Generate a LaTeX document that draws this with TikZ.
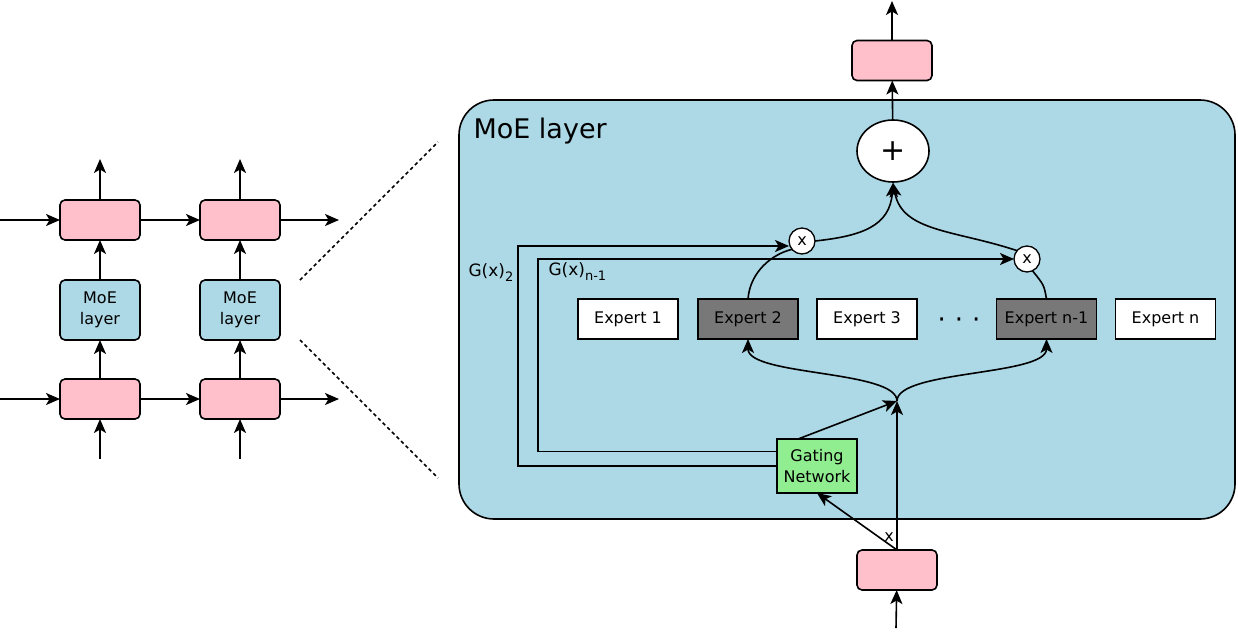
\documentclass[tikz,border=0pt]{standalone}
\usepackage{fontspec}
\setmainfont{DejaVu Sans}
\usetikzlibrary{positioning}
\usetikzlibrary{arrows.meta}
\usetikzlibrary{shapes.geometric}
\definecolor{mpink}{RGB}{255,192,203}
\definecolor{mblue}{RGB}{173,216,230}
\definecolor{mgreen}{RGB}{144,238,144}
\definecolor{mgray}{RGB}{120,120,120}
\newcommand{\gsub}[1]{\raisebox{-5pt}{\fontsize{13}{13}\selectfont #1}}

\begin{document}
\begin{tikzpicture}[x=1pt, y=-1pt, font=\fontsize{16}{21}\selectfont,
    cell/.style={draw, line width=1.6pt, rounded corners=5pt, fill=mpink, minimum width=80pt, minimum height=40pt, inner sep=0pt, outer sep=0pt},
    moe/.style={cell, fill=mblue, minimum height=60pt, align=center},
    expert/.style={draw, line width=1.3pt, fill=white, minimum width=100pt, minimum height=40pt, inner sep=0pt, outer sep=0pt},
    chosen/.style={expert, fill=mgray},
    gate/.style={expert, fill=mgreen, minimum width=80pt, minimum height=54pt, align=center},
    mult/.style={draw, circle, line width=1.3pt, fill=white, minimum size=26pt, inner sep=0pt, outer sep=0pt},
    arrow/.style={-{Stealth[length=14pt,width=12pt,inset=3.5pt]}, line width=1.6pt},
    wire/.style={line width=1.6pt},
]
\useasboundingbox (0,0) rectangle (1238,632);

% left: two columns of the stack
\node[cell] (a1) at (100,399) {};
\node[moe] (m1) at (100,310) {MoE\\layer};
\node[cell] (b1) at (100,220) {};
\node[cell] (a2) at (240,399) {};
\node[moe] (m2) at (240,310) {MoE\\layer};
\node[cell] (b2) at (240,220) {};

\coordinate (a1in) at (100,459);
\coordinate (a2in) at (240,459);
\coordinate (b1out) at (100,159);
\coordinate (b2out) at (240,159);
\coordinate (a1w) at (0,399);
\coordinate (a2e) at (339,399);
\coordinate (b1w) at (0,220);
\coordinate (b2e) at (339,220);

\draw[arrow] (a1in) -- (a1);
\draw[arrow] (a2in) -- (a2);
\draw[arrow] (a1) -- (m1);
\draw[arrow] (a2) -- (m2);
\draw[arrow] (m1) -- (b1);
\draw[arrow] (m2) -- (b2);
\draw[arrow] (b1) -- (b1out);
\draw[arrow] (b2) -- (b2out);
\draw[arrow] (a1w) -- (a1);
\draw[arrow] (a1) -- (a2);
\draw[arrow] (a2) -- (a2e);
\draw[arrow] (b1w) -- (b1);
\draw[arrow] (b1) -- (b2);
\draw[arrow] (b2) -- (b2e);

% zoom lines
\coordinate (z1) at (300,280);
\coordinate (z2) at (438,142);
\coordinate (z3) at (300,340);
\coordinate (z4) at (438,478);
\draw[line width=1.5pt, dash pattern=on 3.5pt off 3pt] (z1) -- (z2);
\draw[line width=1.5pt, dash pattern=on 3.5pt off 3pt] (z3) -- (z4);

% right: the layer itself
\node[draw, line width=1.6pt, rounded corners=35pt, fill=mblue, minimum width=776pt, minimum height=419pt, inner sep=0pt] (layer) at (847,309.5) {};
\node[anchor=west, font=\fontsize{27}{32}\selectfont] (title) at (470,131) {MoE layer};

\node[draw, ellipse, line width=1.6pt, fill=white, minimum width=72pt, minimum height=62pt, inner sep=0pt, font=\fontsize{30}{30}\selectfont] (plus) at (893,151) {+};
\node[cell] (out) at (892,60.5) {};
\coordinate (outtop) at (892,1);

\node[mult] (x1) at (802,241) {x};
\node[mult] (x2) at (1027,259) {x};

\node[expert] (e1) at (628,319) {Expert 1};
\node[chosen, right=20pt of e1] (e2) {Expert 2};
\node[expert, right=19pt of e2] (e3) {Expert 3};
\node[font=\fontsize{26}{26}\selectfont] (dots) at (959,323) {·\hspace{9pt}·\hspace{9pt}·};
\node[chosen] (e4) at (1046.5,319) {Expert n-1};
\node[expert, right=19pt of e4] (e5) {Expert n};

\node[gate] (gate) at (817,466) {Gating\\Network};
\node[cell] (in) at (897,570) {};
\coordinate (inbot) at (896,628);
\coordinate (split) at (897,401);

\draw[arrow] (inbot) -- (in);
\draw[arrow] (in.north) -- (split);
\draw[arrow] (in.north) -- node[pos=0.1, above=2pt, inner sep=0pt] (xlabel) {x} (gate.south);
\draw[arrow] (gate.125) -- (split);

\draw[arrow] (split) .. controls (897,370) and (748,376) .. (e2.south);
\draw[arrow] (split) .. controls (897,370) and (1046.5,376) .. (e4.south);

\draw[wire] (e2.north) .. controls (750,272) and (772,254) .. (x1.220);
\draw[wire] (e4.north) .. controls (1044,285) .. (x2.295);

\draw[arrow] (x1.east) .. controls (862,236) and (890,226) .. (plus.south);
\draw[arrow] (x2.140) .. controls (955,230) and (902,232) .. (plus.south);
\draw[arrow] (plus) -- (out);
\draw[arrow] (out) -- (outtop);

% gate weights
\coordinate (g2) at (518,246);
\coordinate (gn) at (538,259);
\draw[arrow] (gate.west) -| (g2) -- (x1.west |- g2);
\draw[arrow] (gate.160) -| (gn) -- (x2);
\node[anchor=west, font=\fontsize{17}{20}\selectfont] (g2label) at (465,273) {G(x)\gsub{2}};
\node[anchor=west, font=\fontsize{17}{20}\selectfont] (gnlabel) at (545,272) {G(x)\gsub{n-1}};

\end{tikzpicture}
\end{document}
